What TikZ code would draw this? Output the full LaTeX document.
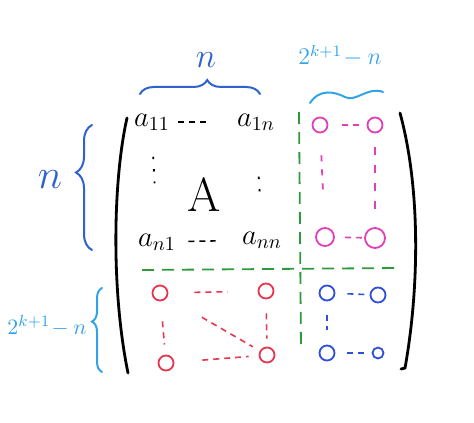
\documentclass[tikz,border=0pt]{standalone}
\usetikzlibrary{decorations.pathreplacing}
\definecolor{penblue}{HTML}{2F62D0}
\definecolor{skyblue}{HTML}{33A3E8}
\definecolor{blockgreen}{HTML}{2E9A3E}
\definecolor{padmagenta}{HTML}{E03FB8}
\definecolor{padred}{HTML}{E8364E}
\definecolor{padblue}{HTML}{2F50D6}

\begin{document}
\begin{tikzpicture}[x=0.5pt,y=-0.5pt,
entry/.style={inner sep=1pt,font=\fontsize{14}{16}\selectfont},
zerocircle/.style={circle,draw,inner sep=0pt,minimum size=7.5pt,line width=0.9pt},
gaps/.style={dash pattern=on 3pt off 2.5pt,line width=0.8pt},
dotcol/.style={dash pattern=on 1.2pt off 5pt,line width=0.9pt},
blockline/.style={draw=blockgreen,dash pattern=on 6pt off 4pt,line width=0.9pt},
paren/.style={line width=1.4pt,line cap=round},
sizebrace/.style={decorate,decoration={brace,amplitude=7pt},line width=1pt,line cap=round}]
\useasboundingbox (0,0) rectangle (474,422);
% the block A
\node (a11) at (152,122) [entry] {$a_{11}$};
\node (a1n) at (256,122) [entry] {$a_{1n}$};
\node (an1) at (157,242) [entry] {$a_{n1}$};
\node (ann) at (262,240) [entry] {$a_{nn}$};
\node (blockA) at (204,195) [inner sep=0pt,font=\fontsize{24}{28}\selectfont] {A};
\draw[gaps,shorten <=3pt,shorten >=12pt] (a11) -- (a1n);
\draw[gaps,shorten <=5pt,shorten >=12pt] (an1) -- (ann);
\draw[dotcol,shorten <=12pt,shorten >=24pt] (a11.south) -- (an1.north);
\draw[dotcol,shorten <=22pt,shorten >=15pt] (a1n.south) -- (ann.north);
% padding right of A
\node (m11) at (320,125) [zerocircle,padmagenta] {};
\node (m1k) at (375,125) [zerocircle,padmagenta] {};
\node (mk1) at (325,237) [zerocircle,padmagenta,minimum height=9pt] {};
\node (mkk) at (375,238) [zerocircle,padmagenta,minimum size=10pt] {};
\draw[gaps,padmagenta,shorten <=7pt,shorten >=3pt] (m11) -- (m1k);
\draw[gaps,padmagenta,shorten <=5pt,shorten >=1pt] (mk1) -- (mkk);
\draw[dotcol,padmagenta,dash pattern=on 3pt off 4pt,shorten <=11pt,shorten >=15pt] (m11) -- (mk1);
\draw[dotcol,padmagenta,dash pattern=on 4pt off 5pt,shorten <=7pt,shorten >=7pt] (m1k) -- (mkk);
% padding below A
\node (r11) at (160,293) [zerocircle,padred] {};
\node (r1n) at (266,291) [zerocircle,padred] {};
\node (rk1) at (166,363) [zerocircle,padred] {};
\node (rkn) at (267,355) [zerocircle,padred] {};
\draw[gaps,padred,shorten <=13pt,shorten >=15pt] (r11) -- (r1n);
\draw[gaps,padred,shorten <=14pt,shorten >=5pt] (rk1) -- (rkn);
\draw[gaps,padred,shorten <=10pt,shorten >=5pt] (r11) -- (rk1);
\draw[gaps,padred,shorten <=7pt,shorten >=4pt] (r1n) -- (rkn);
\draw[gaps,padred,shorten <=20pt,shorten >=4pt] (r11) -- (rkn);
% corner block
\node (b11) at (327,293) [zerocircle,padblue] {};
\node (b1k) at (378,295) [zerocircle,padblue,minimum width=6pt] {};
\node (bk1) at (327,353) [zerocircle,padblue] {};
\node (bkk) at (378,353) [zerocircle,padblue,minimum size=5.5pt] {};
\draw[gaps,padblue,shorten <=6pt,shorten >=1pt] (b11) -- (b1k);
\draw[gaps,padblue,shorten <=6pt,shorten >=4pt] (bk1) -- (bkk);
\draw[gaps,padblue,shorten <=7pt,shorten >=7.5pt] (b11) -- (bk1);
% block borders
\coordinate (vtop) at (299,112);
\coordinate (vbot) at (301,350);
\coordinate (hleft) at (142,270);
\coordinate (hright) at (398,268);
\draw[blockline] (vtop) -- (vbot);
\draw[blockline] (hleft) -- (hright);
% matrix brackets
\draw[paren] (127,118) .. controls (113,180) and (111,290) .. (128,373);
\draw[paren] (400,113) .. controls (421,190) and (419,290) .. (405,368) -- (401,369);
% sizes
\draw[sizebrace,penblue,decoration={aspect=0.56}] (140,94) -- (260,94);
\node (ntop) at (206,60) [text=penblue,font=\fontsize{16}{18}\selectfont] {$n$};
\draw[sizebrace,penblue,decoration={amplitude=8pt,aspect=0.62}] (92,250) -- (92,125);
\node (nleft) at (50,180) [text=penblue,font=\fontsize{22}{24}\selectfont] {$n$};
\draw[skyblue,line width=1pt,line cap=round] (310,103) .. controls (320,88) and (335,92) .. (345,97) .. controls (355,103) and (368,86) .. (383,92);
\node (padtop) at (340,56) [text=skyblue,font=\fontsize{12}{14}\selectfont] {$2^{k+1}\mkern-3mu-n$};
\draw[sizebrace,skyblue,decoration={amplitude=5pt,aspect=0.6}] (102,372) -- (102,288);
\node (padleft) at (47,326) [text=skyblue,font=\fontsize{11}{13}\selectfont] {$2^{k+1}\mkern-3mu-n$};
\end{tikzpicture}
\end{document}
